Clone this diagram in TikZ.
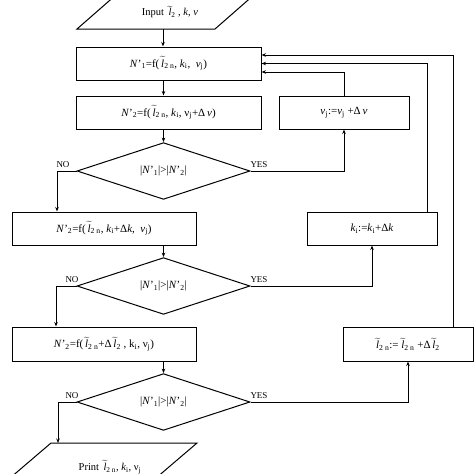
\documentclass[tikz,border=0pt]{standalone}
\usepackage{fontspec}
\setmainfont{Liberation Serif}
\usetikzlibrary{shapes.geometric,arrows.meta}
\newcommand{\lt}{\ensuremath{\widetilde{\textit{l}}}}
\newcommand{\Np}[1]{\textit{N}'\textsubscript{#1}}
\newcommand{\nuu}{\textit{ν}}
\begin{document}
\begin{tikzpicture}[x=1pt,y=-1pt,
  box/.style={draw,line width=1pt,inner sep=0pt,font=\fontsize{11}{13}\selectfont},
  dia/.style={draw,diamond,line width=1pt,inner sep=0pt,minimum width=173pt,minimum height=49pt,font=\fontsize{11}{13}\selectfont},
  lbl/.style={font=\fontsize{9}{10}\selectfont,inner sep=0pt},
  arr/.style={line width=0.8pt,-{Stealth[length=4.5pt,width=3.5pt]}}]
\useasboundingbox (0,0) rectangle (474,474);
\clip (0,0) rectangle (474,474);
% parallelograms
\draw[line width=1pt] (77,29) -- (117,-6) -- (255,-6) -- (215,29) -- cycle;
\node[font=\fontsize{10.5}{12}\selectfont] (in) at (170,12) {Input \,\lt\textsubscript{2} , \textit{k}, \nuu};
\coordinate (inb) at (163,29);
\draw[line width=1pt] (51,443) -- (197,443) -- (142,490) -- (-4,490) -- cycle;
\node[font=\fontsize{10.5}{12}\selectfont] (pr) at (110,467) {Print \,\lt\textsubscript{2 n}, \textit{k}\textsubscript{i}, ν\textsubscript{j}};
\coordinate (prt) at (58,443);
% boxes
\node[box,minimum width=185pt,minimum height=33pt] (b1) at (168.5,63.5) {\Np{1}=f(\,\lt\textsubscript{2 n}, \textit{k}\textsubscript{i}, \ \nuu\textsubscript{j})};
\node[box,minimum width=185pt,minimum height=33pt] (b2) at (168.5,112.5) {\Np{2}=f(\,\lt\textsubscript{2 n}, \textit{k}\textsubscript{i}, ν\textsubscript{j}+Δ\,\nuu)};
\node[box,minimum width=130pt,minimum height=33pt] (bv) at (344,112.5) {\nuu\textsubscript{j}:=\nuu\textsubscript{j} +Δ\,\nuu};
\node[dia] (d1) at (163.5,171) {|\Np{1}|>|\Np{2}|};
\node[box,minimum width=184pt,minimum height=33pt] (b3) at (104,228.5) {\Np{2}=f(\,\lt\textsubscript{2 n}, \textit{k}\textsubscript{i}+Δ\textit{k}, \ \nuu\textsubscript{j})};
\node[box,minimum width=130pt,minimum height=33pt] (bk) at (372,228.5) {\textit{k}\textsubscript{i}:=\textit{k}\textsubscript{i}+Δ\textit{k}};
\node[dia,minimum height=48pt] (d2) at (163.5,286) {|\Np{1}|>|\Np{2}|};
\node[box,minimum width=184pt,minimum height=34pt] (b4) at (104,344) {\Np{2}=f(\,\lt\textsubscript{2 n}+Δ\,\lt\textsubscript{2} , k\textsubscript{i}, ν\textsubscript{j})};
\node[box,minimum width=130pt,minimum height=34pt] (bl) at (408,344) {\lt\textsubscript{2 n}:= \lt\textsubscript{2 n} +Δ\,\lt\textsubscript{2}};
\node[dia,minimum height=50pt] (d3) at (163.5,402) {|\Np{1}|>|\Np{2}|};
% labels
\node[lbl] (no1) at (63,165) {NO};
\node[lbl] (yes1) at (259,165) {YES};
\node[lbl] (no2) at (72,280) {NO};
\node[lbl] (yes2) at (259,280) {YES};
\node[lbl] (no3) at (72,396) {NO};
\node[lbl] (yes3) at (259,396) {YES};
% connectors
\draw[arr] (inb) -- (inb |- b1.north);
\draw[arr] (d1.north |- b1.south) -- (d1.north |- b2.north);
\draw[arr] (d1.north |- b2.south) -- (d1.north);
\draw[arr] (d1.west) -| (57,0 |- b3.north);
\draw[arr] (d1.east) -| (bv.south);
\draw[arr] (bv.north) |- ([yshift=-8.5pt]b1.east);
\draw[arr] (d2.north |- b3.south) -- (d2.north);
\draw[arr] (d2.west) -| (56,0 |- b4.north);
\draw[arr] (d2.east) -| (bk.south);
\draw[arr] (427,0 |- bk.north) |- (b1.east);
\draw[arr] (d3.north |- b4.south) -- (d3.north);
\draw[arr] (d3.east) -| (bl.south);
\draw[arr] (453,0 |- bl.north) |- ([yshift=8.5pt]b1.east);
\draw[arr] (d3.west) -| (prt);
\end{tikzpicture}
\end{document}
